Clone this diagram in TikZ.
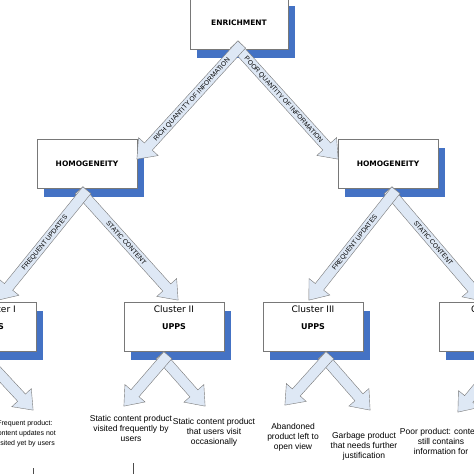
\documentclass[tikz,border=0pt]{standalone}
\usepackage{fontspec}
\setmainfont{Liberation Sans}
\newfontfamily\headfont{DejaVu Sans}
\usepackage{tikz}
\usetikzlibrary{shapes.arrows, shadows, calc}

\definecolor{shadowblue}{RGB}{68,114,196}
\definecolor{arrowfill}{RGB}{222,232,245}
\definecolor{edgegray}{RGB}{120,120,120}

% block arrow from tail to tip: [options]{name}{from}{to}{text}
\newcommand{\fatarrow}[5][]{%
  \path let \p1=($(#4)-(#3)$), \n1={veclen(\x1,\y1)} in
    (#3) -- (#4) node[fat, pos=0, sloped, anchor=tail, minimum height=\n1, #1] (#2) {#5};
}

\begin{document}
\begin{tikzpicture}[
    x=1pt, y=-1pt,
    box/.style={rectangle, draw=edgegray, fill=white, line width=0.5pt, inner sep=0pt,
      minimum width=100pt, minimum height=49pt,
      drop shadow={shadow xshift=7pt, shadow yshift=-9pt, fill=shadowblue, opacity=1}},
    head/.style={font=\headfont\bfseries\fontsize{7.5}{9}\selectfont},
    upps/.style={font=\headfont\bfseries\fontsize{8}{9}\selectfont},
    ctitle/.style={inner sep=0pt, font=\headfont\fontsize{9}{10}\selectfont},
    fat/.style={single arrow, draw=edgegray, fill=arrowfill, line width=0.4pt,
      single arrow head extend=8pt, single arrow tip angle=76,
      inner xsep=0pt, inner ysep=2.7pt, text height=4.8pt, text depth=0pt,
      font=\fontsize{6.6}{6.6}\selectfont},
    flip/.style={shape border rotate=180},
    desc/.style={align=center, anchor=north, inner sep=0pt, font=\fontsize{8.5}{10}\selectfont},
    line/.style={draw=black!70, line width=0.5pt}
  ]

    \useasboundingbox (0,0) rectangle (474,474);
    \clip (0,0) rectangle (474,474);

    % Top level
    \node[box, head, minimum width=98pt, minimum height=52pt] (enr) at (239,23) {ENRICHMENT};

    % Second level
    \node[box, head] (homL) at (87,163.5) {HOMOGENEITY};
    \node[box, head] (homR) at (388,163.5) {HOMOGENEITY};

    % Clusters
    \node[box, upps, minimum width=88pt] (cl1) at (-8,326.5) {UPPS};
    \node[box, upps] (cl2) at (174,326.5) {UPPS};
    \node[box, upps] (cl3) at (313,326.5) {UPPS};
    \node[box, upps] (cl4) at (489,326.5) {UPPS};
    \node[ctitle] (cl1t) at (-3,309) {Cluster I};
    \node[ctitle] (cl2t) at (174,309) {Cluster II};
    \node[ctitle] (cl3t) at (313,309) {Cluster III};
    \node[ctitle] (cl4t) at (493,309) {Cluster IV};

    % Arrow ends
    \coordinate (enrA) at (241.8,44.3);
    \coordinate (enrB) at (234.2,44.3);
    \coordinate (homLin) at (137,159);
    \coordinate (homRin) at (338,159);
    \coordinate (homLa) at (87,190);
    \coordinate (homLb) at (79,190);
    \coordinate (homRa) at (396,190);
    \coordinate (homRb) at (388,190);
    \coordinate (cl1in) at (-2,300);
    \coordinate (cl2in) at (178,300);
    \coordinate (cl3in) at (309,300);
    \coordinate (cl4in) at (483,301);
    \coordinate (cl1a) at (-10,355);
    \coordinate (cl1b) at (-18,355);
    \coordinate (cl2a) at (168,355);
    \coordinate (cl2b) at (160,355);
    \coordinate (cl3a) at (330,355);
    \coordinate (cl3b) at (322,355);
    \coordinate (cl4a) at (505,355);
    \coordinate (cl4b) at (497,355);
    \coordinate (ds0in) at (-52,408);
    \coordinate (ds1in) at (33,410);
    \coordinate (ds2in) at (124,406);
    \coordinate (ds3in) at (205,406);
    \coordinate (ds4in) at (285,405);
    \coordinate (ds5in) at (370,410);
    \coordinate (ds6in) at (458,412);
    \coordinate (ds7in) at (545,408);

    % Arrows
    \fatarrow{arPoor}{enrB}{homRin}{POOR QUANTITY OF INFORMATION}
    \fatarrow[flip]{arRich}{enrA}{homLin}{RICH QUANTITY OF INFORMATION}
    \fatarrow{arStatL}{homLb}{cl2in}{STATIC CONTENT}
    \fatarrow[flip]{arFreqL}{homLa}{cl1in}{FREQUENT UPDATES}
    \fatarrow{arStatR}{homRb}{cl4in}{STATIC CONTENT}
    \fatarrow[flip]{arFreqR}{homRa}{cl3in}{FREQUENT UPDATES}
    \fatarrow{ar1b}{cl1b}{ds1in}{}
    \fatarrow[flip]{ar1a}{cl1a}{ds0in}{}
    \fatarrow{ar2b}{cl2b}{ds3in}{}
    \fatarrow[flip]{ar2a}{cl2a}{ds2in}{}
    \fatarrow{ar3b}{cl3b}{ds5in}{}
    \fatarrow[flip]{ar3a}{cl3a}{ds4in}{}
    \fatarrow{ar4b}{cl4b}{ds7in}{}
    \fatarrow[flip]{ar4a}{cl4a}{ds6in}{}

    % Products
    \node[desc, font=\fontsize{7}{10}\selectfont] (ds1) at (25,420) {Frequent product:\\content updates not\\visited yet by users};
    \node[desc] (ds2) at (131,415) {Static content product\\visited frequently by\\users};
    \node[desc] (ds3) at (214,418) {Static content product\\that users visit\\occasionally};
    \node[desc] (ds4) at (293,423) {Abandoned\\product left to\\open view};
    \node[desc] (ds5) at (364,432) {Garbage product\\that needs further\\justification};
    \node[desc] (ds6) at (441,428) {Poor product: content\\still contains\\information for};

    % Lines below
    \coordinate (v1a) at (33,468);
    \coordinate (v1b) at (33,480);
    \coordinate (v2a) at (133,463);
    \coordinate (v2b) at (133,480);
    \draw[line] (v1a) -- (v1b);
    \draw[line] (v2a) -- (v2b);

  \end{tikzpicture}
\end{document}
